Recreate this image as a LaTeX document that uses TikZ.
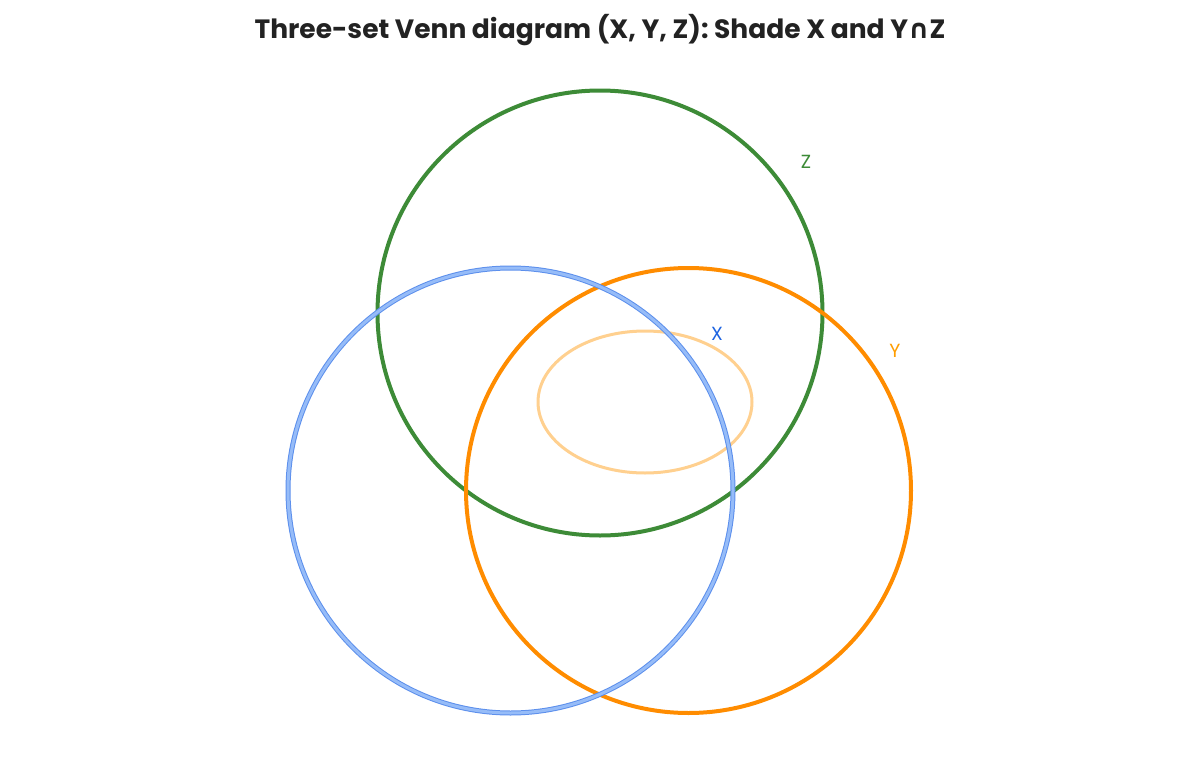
\documentclass[tikz,border=0pt]{standalone}
\usepackage{fontspec}
\setmainfont{Poppins}
\newfontfamily\symfont{DejaVu Sans}
\usetikzlibrary{shapes.geometric, positioning}
\definecolor{zgreen}{RGB}{61,139,55}
\definecolor{yorange}{RGB}{255,140,0}
\definecolor{xblue}{RGB}{92,143,236}
\definecolor{xbluelight}{RGB}{150,188,248}
\definecolor{xlabel}{RGB}{30,100,225}
\definecolor{inner}{RGB}{255,208,143}
\definecolor{titlegray}{RGB}{34,34,34}

\begin{document}
\begin{tikzpicture}[
    x=1pt, y=-1pt,
    setcircle/.style={circle, minimum size=445pt, inner sep=0pt},
    setlabel/.style={font=\fontsize{19}{21}\selectfont, inner sep=0pt}
]
    \useasboundingbox (0,0) rectangle (1200,763);

    % Title
    \node[font=\fontsize{26.5}{31}\selectfont\bfseries, text=titlegray] (title) at (600,30)
        {Three-set Venn diagram (X, Y, Z): Shade X and Y{\symfont\bfseries ∩}Z};

    % Sets
    \node[setcircle, draw=zgreen, line width=4pt] (setZ) at (600,313) {};
    \node[setcircle, draw=yorange, line width=4pt] (setY) at (688.5,490.5) {};
    \node[ellipse, draw=inner, line width=3pt, minimum width=214pt, minimum height=142pt] (core) at (645,402) {};
    \node[setcircle, draw=xblue, line width=1pt, double=xbluelight, double distance=3pt] (setX) at (510.5,490.5) {};

    % Labels
    \node[setlabel, text=zgreen] (labZ) at (806,162) {Z};
    \node[setlabel, text=xlabel] (labX) at (717,334) {X};
    \node[setlabel, text=yorange!85!yellow] (labY) at (895,351) {Y};
\end{tikzpicture}
\end{document}
